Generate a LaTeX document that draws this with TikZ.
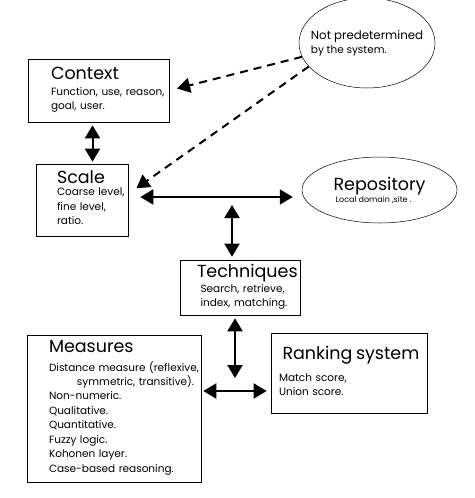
\documentclass[tikz,border=0pt]{standalone}
\usepackage{fontspec}
\setmainfont{Poppins}
\usetikzlibrary{arrows.meta,shapes.geometric}
\newcommand{\heading}[1]{{\fontsize{17.5}{19}\selectfont #1}}
\tikzset{
  box/.style={draw, line width=0.6pt, inner sep=0pt, align=left, font=\fontsize{10.5}{14}\selectfont},
  oval/.style={draw, ellipse, line width=0.5pt, inner sep=-20pt, align=left, font=\fontsize{10.5}{14}\selectfont},
  link/.style={{Triangle[length=13pt,width=15pt]}-{Triangle[length=13pt,width=15pt]}, line width=2pt},
  hint/.style={-{Triangle[length=13pt,width=15pt]}, line width=2pt, dash pattern=on 8pt off 6pt},
}
\begin{document}
\begin{tikzpicture}[x=1pt,y=-1pt]
\useasboundingbox (0,0) rectangle (474,498);
\node[box, text width=141pt, minimum height=63pt] (a) at (98.5,90.5) {\hspace*{23pt}\begin{tabular}{@{}l@{}}\heading{Context}\\[2pt] Function, use, reason,\\[0.5pt] goal, user.\end{tabular}};
\node[box, text width=92pt, minimum height=72pt] (b) at (82,200) {\hspace*{21pt}\begin{tabular}{@{}l@{}}\heading{Scale}\\[-2pt] Coarse level,\\[0.5pt] fine level,\\[0.5pt] ratio.\end{tabular}};
\node[oval, minimum width=155pt, minimum height=66pt] (c) at (379.5,190) {\heading{Repository}\\[-2pt] {\fontsize{8}{14}\selectfont\ Local domain ,site .}};
\node[box, text width=120pt, minimum height=55pt] (d) at (240,287.5) {\hspace*{17pt}\begin{tabular}{@{}l@{}}\heading{Techniques}\\[1pt] \ Search, retrieve,\\ \ index, matching.\end{tabular}};
\node[box, text width=174pt, minimum height=147pt] (e) at (114,408.5) {\hspace*{22pt}\begin{tabular}{@{}l@{}}\heading{Measures}\\[5pt] Distance measure (reflexive,\\ \hspace*{28pt}symmetric, transitive).\\[0.5pt] Non-numeric.\\[0.5pt] Qualitative.\\[0.5pt] Quantitative.\\[0.5pt] Fuzzy logic.\\[0.5pt] Kohonen layer.\\[0.5pt] Case-based reasoning.\end{tabular}};
\node[box, text width=156pt, minimum height=80pt] (f) at (349,373) {\hspace*{8pt}\begin{tabular}{@{}l@{}}\ \heading{Ranking system}\\[8pt] Match score,\\ Union score.\end{tabular}};
\node[oval, minimum width=136pt, minimum height=90pt] (g) at (367,43) {\fontsize{11.8}{17}\selectfont Not predetermined\\ by the system.};
\coordinate (h) at (232,205);
\coordinate (k) at (235,378);
\draw[hint, shorten >=8pt] (g.192) -- (a.east);
\draw[hint, shorten >=10pt] (g.202) -- ([yshift=6pt]b.east);
\draw[link, shorten <=3pt, shorten >=2pt] ([xshift=-6pt]a.south) -- ([xshift=-6pt]a.south |- b.north);
\draw[link, shorten <=12pt, shorten >=9pt] ([yshift=3pt]b.east) -- ([yshift=3pt]b.east -| c.west);
\draw[link, shorten >=3pt] (h) -- (h |- d.north);
\draw[link, shorten <=3pt] ([xshift=-5pt]d.south) -- (k);
\draw[link, shorten <=2pt, shorten >=4pt] ([yshift=17.5pt]e.east) -- ([yshift=17.5pt]e.east -| f.west);
\end{tikzpicture}
\end{document}
